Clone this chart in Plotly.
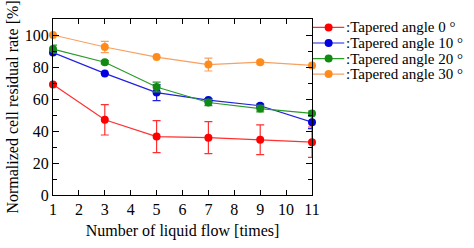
import plotly.graph_objects as go

x_vals = [1, 3, 5, 7, 9, 11]
red_y = [69, 47, 36.5, 35.8, 34.5, 33]
red_err = [0, 9.5, 10, 10, 9.3, 9.5]
blue_y = [89, 76, 64, 59.3, 55.8, 45.5]
blue_err = [0, 0, 5, 1, 1, 4]
green_y = [91.2, 83, 67.5, 57.8, 54, 51]
green_err = [2.5, 1, 3, 2, 2, 1.5]
orange_y = [100, 92.5, 86.2, 81.5, 83, 81]
orange_err = [0, 3.5, 0, 4, 1, 0]

names = [":Tapered angle 0 °", ":Tapered angle 10 °", ":Tapered angle 20 °", ":Tapered angle 30 °"]
colors = ["#ff0000", "#0000e0", "#108a10", "#ff8c1a"]
line_colors = ["#ff3030", "#2020e0", "#289a28", "#f8a060"]
ys = [red_y, blue_y, green_y, orange_y]
errs = [red_err, blue_err, green_err, orange_err]

W, H = 474, 248
ML, MR, MT, MB = 47, 162, 19, 42
PW, PH = W - ML - MR, H - MT - MB


def px_to_paper_x(px):
    return (px - ML) / PW


def px_to_paper_y(py):
    return (H - MB - py) / PH


fig = go.Figure()
for n, c, lc, y, e in zip(names, colors, line_colors, ys, errs):
    fig.add_trace(go.Scatter(
        x=x_vals, y=y, name=n, mode="lines+markers",
        line=dict(color=lc, width=1.2),
        marker=dict(color=c, size=8),
        error_y=dict(type="data", array=e, visible=True, color=lc, thickness=1.2, width=4),
        showlegend=False, cliponaxis=False,
    ))

font_family = "Liberation Serif"

# manual legend (compact rows like the reference)
legend_rows_px = [28, 44.5, 61, 77.5]
shapes = []
annotations = []
for n, c, lc, py in zip(names, colors, line_colors, legend_rows_px):
    yy = px_to_paper_y(py)
    shapes.append(dict(type="line", xref="paper", yref="paper",
                       x0=px_to_paper_x(313), x1=px_to_paper_x(345), y0=yy, y1=yy,
                       line=dict(color=lc, width=1.2)))
    shapes.append(dict(type="circle", xref="paper", yref="paper",
                       xsizemode="pixel", ysizemode="pixel",
                       xanchor=px_to_paper_x(329), yanchor=yy,
                       x0=-4, x1=4, y0=-4, y1=4,
                       fillcolor=c, line=dict(color=c, width=0)))
    annotations.append(dict(xref="paper", yref="paper", x=px_to_paper_x(345), y=yy,
                            xanchor="left", yanchor="middle", showarrow=False,
                            text=n, font=dict(family=font_family, size=15, color="black")))

fig.update_layout(
    width=W, height=H,
    margin=dict(l=ML, r=MR, t=MT, b=MB),
    paper_bgcolor="white", plot_bgcolor="white",
    font=dict(family=font_family, size=16, color="black"),
    showlegend=False,
    shapes=shapes, annotations=annotations,
    xaxis=dict(range=[1, 11], tickmode="linear", tick0=1, dtick=1,
               ticks="inside", ticklen=5, tickwidth=1, tickcolor="black",
               showline=True, linecolor="black", linewidth=1, mirror="ticks",
               showgrid=False, zeroline=False,
               title=dict(text="Number of liquid flow [times]", standoff=7,
                          font=dict(family=font_family, size=16)),
               tickfont=dict(family=font_family, size=16)),
    yaxis=dict(range=[0, 110], tickmode="linear", tick0=0, dtick=20,
               ticks="inside", ticklen=6, tickwidth=1, tickcolor="black",
               minor=dict(dtick=10, ticks="inside", ticklen=4, tickcolor="black"),
               showline=True, linecolor="black", linewidth=1, mirror="ticks",
               showgrid=False, zeroline=False,
               title=dict(text="Normalized cell residual rate [%]", standoff=2,
                          font=dict(family=font_family, size=16)),
               tickfont=dict(family=font_family, size=16)),
)
fig.write_html("out.html")
